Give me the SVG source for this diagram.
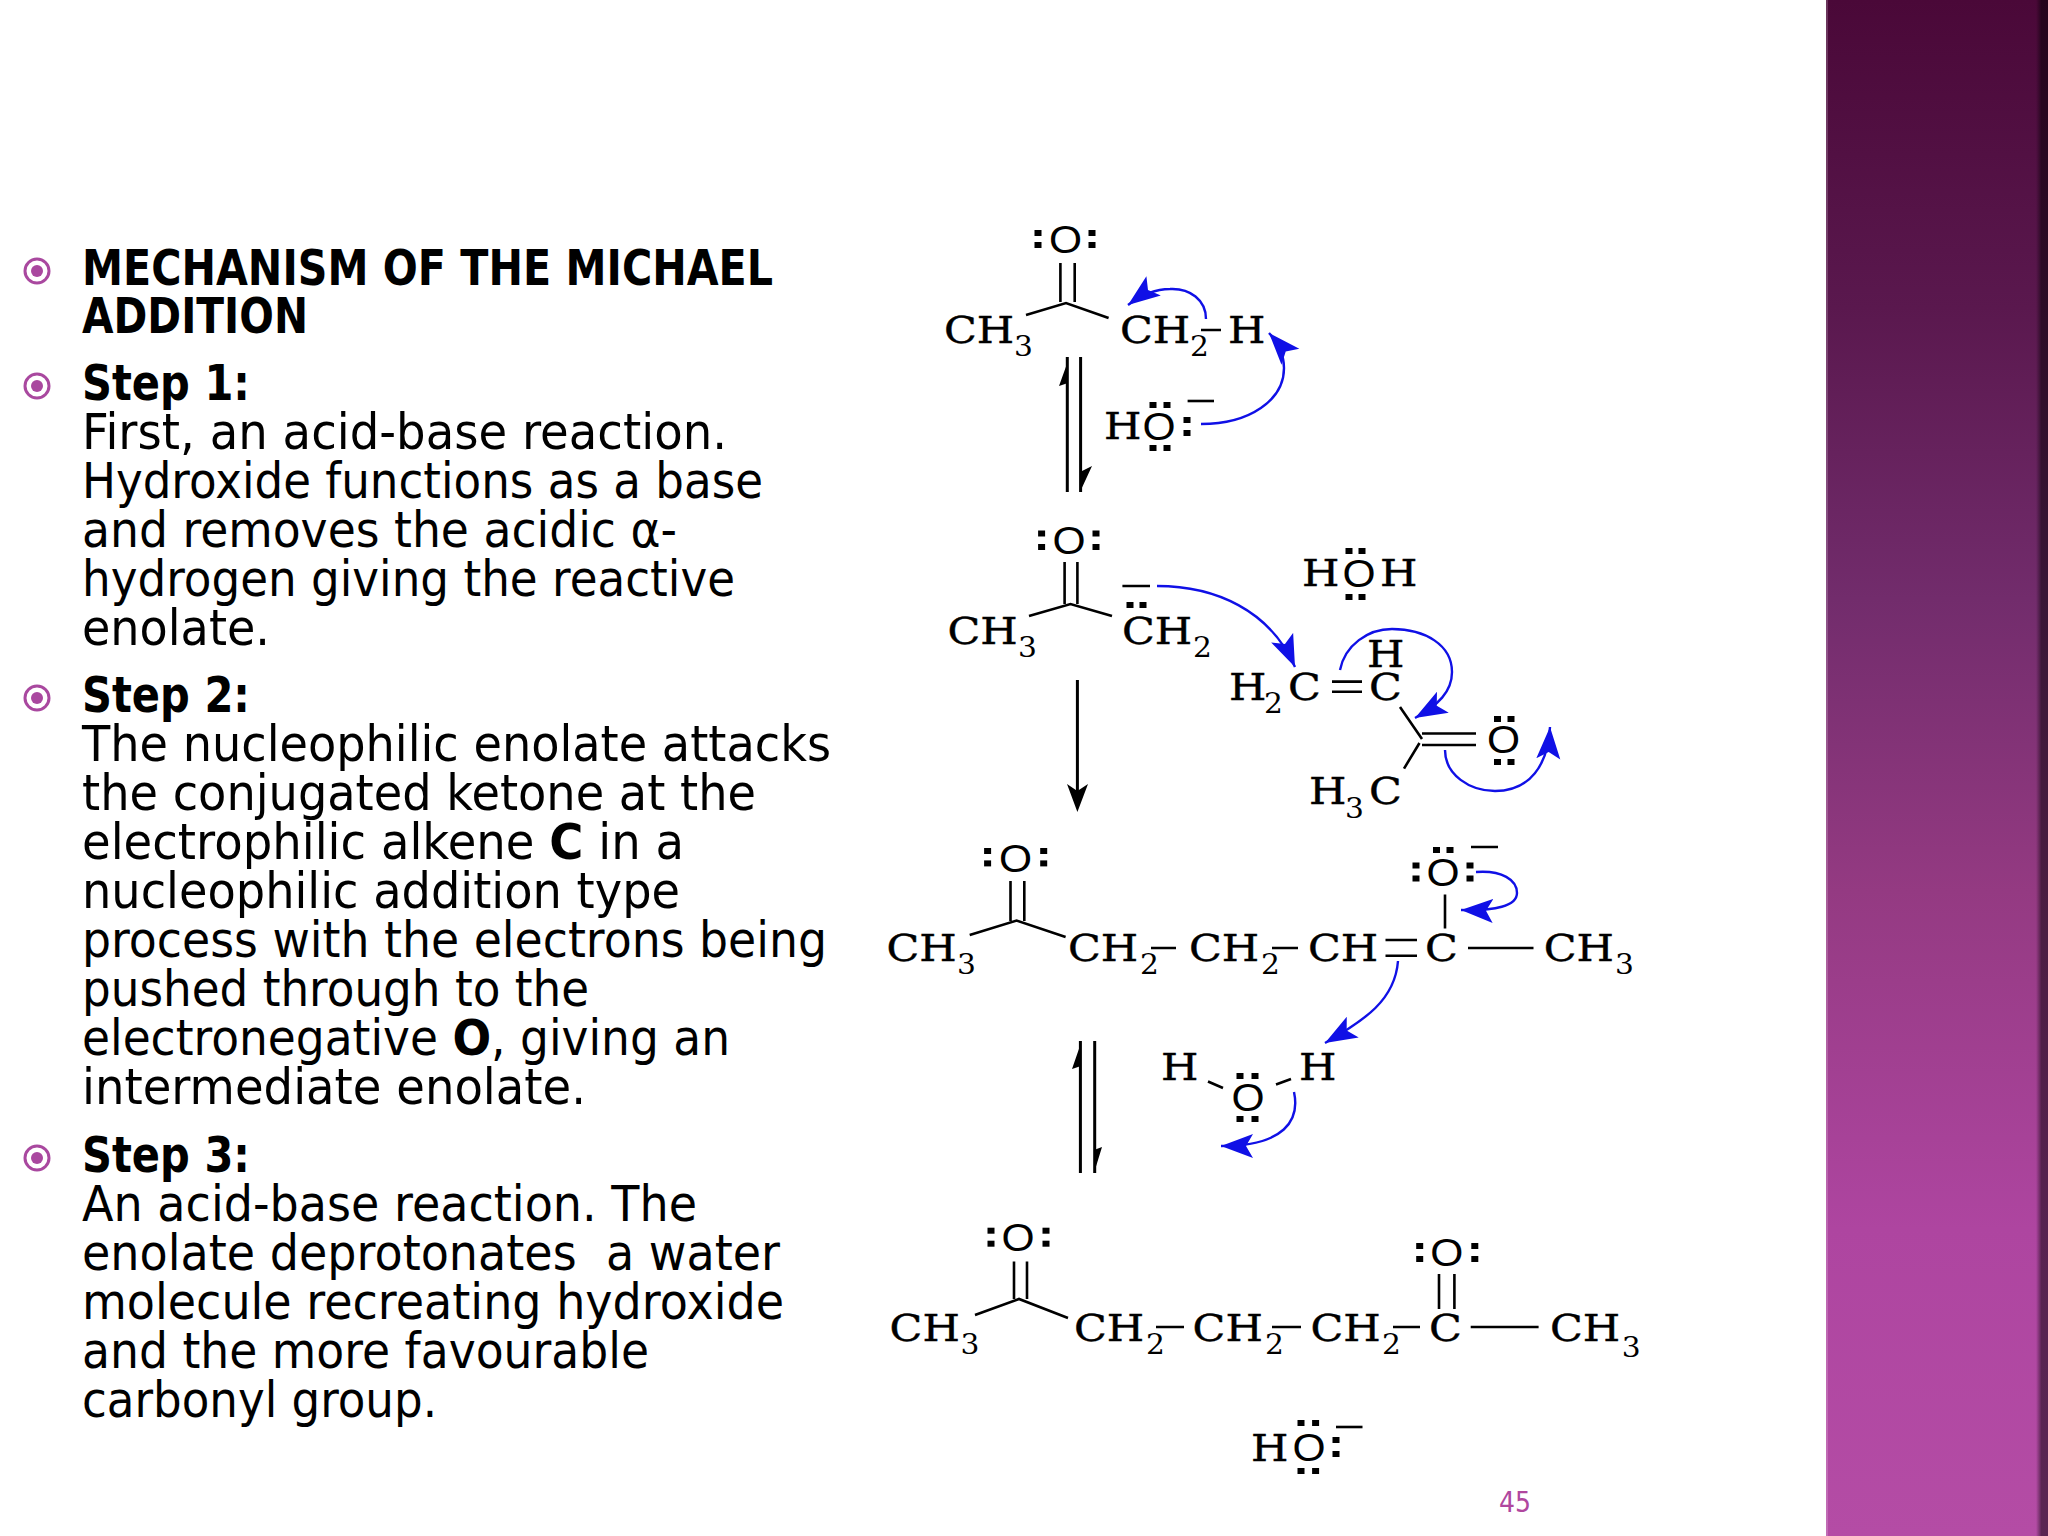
<svg xmlns="http://www.w3.org/2000/svg" width="2048" height="1536" viewBox="0 0 2048 1536">
<style>
.t{font-family:"DejaVu Sans","Liberation Sans",sans-serif;font-size:50px;fill:#000}
.b{font-weight:700}
.c{font-family:"DejaVu Serif","Liberation Serif",serif;font-size:37px;fill:#000;stroke:#000;stroke-width:.4}
.o{font-family:"Liberation Sans","DejaVu Sans",sans-serif;font-size:38px;fill:#000}
.m{text-anchor:middle}
.s{font-family:"DejaVu Serif","Liberation Serif",serif;font-size:27px;fill:#000}
.l{stroke:#000;stroke-width:2.6;fill:none}
.a{stroke:#000;stroke-width:3;fill:none}
.e{stroke:#1010e6;stroke-width:2.4;fill:none;marker-end:url(#h)}
.k{fill:#000}
.bu{fill:none;stroke:#a9489f;stroke-width:3}
.bd{fill:#a9489f}
</style>
<defs>
<linearGradient id="g" x1="0" y1="0" x2="0" y2="1"><stop offset="0" stop-color="#4a0838"/><stop offset=".2" stop-color="#5a184e"/><stop offset=".39" stop-color="#722c6c"/><stop offset=".58" stop-color="#943a82"/><stop offset=".8" stop-color="#ae45a0"/><stop offset="1" stop-color="#b44ca5"/></linearGradient>
<linearGradient id="r" x1="0" y1="0" x2="1" y2="0"><stop offset="0" stop-color="#000" stop-opacity="0"/><stop offset=".45" stop-color="#000" stop-opacity=".5"/><stop offset="1" stop-color="#000" stop-opacity=".5"/></linearGradient>
<marker id="h" markerUnits="userSpaceOnUse" markerWidth="32" markerHeight="26" refX="32" refY="13" orient="auto"><path d="M32,13 L0,1 L7,13 L0,25 Z" fill="#1010e6"/></marker>
<rect id="d" x="-3.5" y="-3" width="7" height="6" fill="#000"/>
</defs>
<rect width="2048" height="1536" fill="#fff"/>
<g id="sidebar"><rect x="1826" y="0" width="222" height="1536" fill="url(#g)"/><rect x="1826" y="0" width="2" height="1536" fill="#fff" opacity=".18"/><rect x="2036" y="0" width="12" height="1536" fill="url(#r)"/></g>

<g id="bullets">
<circle class="bu" cx="37" cy="271" r="12"/><circle class="bd" cx="37" cy="271" r="6"/>
<circle class="bu" cx="37" cy="386" r="12"/><circle class="bd" cx="37" cy="386" r="6"/>
<circle class="bu" cx="37" cy="698" r="12"/><circle class="bd" cx="37" cy="698" r="6"/>
<circle class="bu" cx="37" cy="1158" r="12"/><circle class="bd" cx="37" cy="1158" r="6"/>
</g>
<g id="text">
<text class="t b" x="82" y="285" textLength="691" lengthAdjust="spacingAndGlyphs">MECHANISM OF THE MICHAEL</text>
<text class="t b" x="82" y="333" textLength="226" lengthAdjust="spacingAndGlyphs">ADDITION</text>
<text class="t b" x="82" y="400" textLength="168" lengthAdjust="spacingAndGlyphs">Step 1:</text>
<text class="t" x="82" y="449" textLength="645" lengthAdjust="spacingAndGlyphs">First, an acid-base reaction.</text>
<text class="t" x="82" y="498" textLength="681" lengthAdjust="spacingAndGlyphs">Hydroxide functions as a base</text>
<text class="t" x="82" y="547" textLength="595" lengthAdjust="spacingAndGlyphs">and removes the acidic α-</text>
<text class="t" x="82" y="596" textLength="653" lengthAdjust="spacingAndGlyphs">hydrogen giving the reactive</text>
<text class="t" x="82" y="645" textLength="188" lengthAdjust="spacingAndGlyphs">enolate.</text>
<text class="t b" x="82" y="712" textLength="168" lengthAdjust="spacingAndGlyphs">Step 2:</text>
<text class="t" x="82" y="761" textLength="749" lengthAdjust="spacingAndGlyphs">The nucleophilic enolate attacks</text>
<text class="t" x="82" y="810" textLength="674" lengthAdjust="spacingAndGlyphs">the conjugated ketone at the</text>
<text class="t" x="82" y="859" textLength="602" lengthAdjust="spacingAndGlyphs">electrophilic alkene <tspan class="b">C</tspan> in a</text>
<text class="t" x="82" y="908" textLength="598" lengthAdjust="spacingAndGlyphs">nucleophilic addition type</text>
<text class="t" x="82" y="957" textLength="745" lengthAdjust="spacingAndGlyphs">process with the electrons being</text>
<text class="t" x="82" y="1006" textLength="507" lengthAdjust="spacingAndGlyphs">pushed through to the</text>
<text class="t" x="82" y="1055" textLength="648" lengthAdjust="spacingAndGlyphs">electronegative <tspan class="b">O</tspan>, giving an</text>
<text class="t" x="82" y="1104" textLength="504" lengthAdjust="spacingAndGlyphs">intermediate enolate.</text>
<text class="t b" x="82" y="1172" textLength="168" lengthAdjust="spacingAndGlyphs">Step 3:</text>
<text class="t" x="82" y="1221" textLength="615" lengthAdjust="spacingAndGlyphs">An acid-base reaction. The</text>
<text class="t" x="82" y="1270" textLength="698" lengthAdjust="spacingAndGlyphs" xml:space="preserve">enolate deprotonates  a water</text>
<text class="t" x="82" y="1319" textLength="702" lengthAdjust="spacingAndGlyphs">molecule recreating hydroxide</text>
<text class="t" x="82" y="1368" textLength="567" lengthAdjust="spacingAndGlyphs">and the more favourable</text>
<text class="t" x="82" y="1417" textLength="355" lengthAdjust="spacingAndGlyphs">carbonyl group.</text>
</g>

<g id="mol1">
<text class="o m" transform="matrix(1.12 0 0 1 1065.5 252.5)">O</text>
<use href="#d" x="1038" y="233"/><use href="#d" x="1038" y="245"/><use href="#d" x="1092" y="233"/><use href="#d" x="1092" y="245"/>
<path class="l" d="M1060.4,263V302M1074.7,263V302M1026,315L1066,303L1108.6,318M1201,330H1221"/>
<text class="c" transform="matrix(1.16 0 0 1 944 343)">CH</text><text class="s" transform="matrix(1.1 0 0 1 1014 356)">3</text>
<text class="c" transform="matrix(1.16 0 0 1 1120 343)">CH</text><text class="s" transform="matrix(1.1 0 0 1 1190 356)">2</text>
<text class="c" transform="matrix(1.16 0 0 1 1228 343)">H</text>
</g>
<g id="hydroxide1">
<text class="c" transform="matrix(1.16 0 0 1 1104 439)">H</text><text class="o m" transform="matrix(1.12 0 0 1 1159 439.5)">O</text>
<use href="#d" x="1153" y="405"/><use href="#d" x="1167" y="405"/><use href="#d" x="1153" y="448"/><use href="#d" x="1167" y="448"/><use href="#d" x="1187" y="420"/><use href="#d" x="1187" y="433"/>
<path class="l" d="M1187.6,401H1214"/>
</g>

<g id="mol2">
<text class="o m" transform="matrix(1.12 0 0 1 1069 553.5)">O</text>
<use href="#d" x="1041.6" y="533.5"/><use href="#d" x="1041.6" y="547"/><use href="#d" x="1096" y="533.5"/><use href="#d" x="1096" y="547"/>
<path class="l" d="M1064.6,562V604M1077.4,562V604M1029,616L1070.5,604L1112,616M1122.4,586H1150"/>
<use href="#d" x="1130" y="605"/><use href="#d" x="1143" y="605"/>
<text class="c" transform="matrix(1.16 0 0 1 947.5 644)">CH</text><text class="s" transform="matrix(1.1 0 0 1 1018 657)">3</text>
<text class="c" transform="matrix(1.16 0 0 1 1122 644)">CH</text><text class="s" transform="matrix(1.1 0 0 1 1193 657)">2</text>
</g>
<g id="water1">
<text class="c" transform="matrix(1.16 0 0 1 1302 586)">H</text><text class="o m" transform="matrix(1.12 0 0 1 1359 587)">O</text><text class="c" transform="matrix(1.16 0 0 1 1380 586)">H</text>
<use href="#d" x="1349" y="551"/><use href="#d" x="1362" y="551"/><use href="#d" x="1349" y="597"/><use href="#d" x="1362" y="597"/>
</g>
<g id="enone">
<text class="c" transform="matrix(1.16 0 0 1 1229 700)">H</text><text class="s" transform="matrix(1.1 0 0 1 1264 713)">2</text>
<text class="c" transform="matrix(1.16 0 0 1 1288 700)">C</text>
<text class="c" transform="matrix(1.16 0 0 1 1369 700)">C</text>
<text class="c" transform="matrix(1.16 0 0 1 1367 666.5)">H</text>
<text class="o m" transform="matrix(1.12 0 0 1 1503.5 753)">O</text>
<use href="#d" x="1497.5" y="719"/><use href="#d" x="1511" y="719"/><use href="#d" x="1497.5" y="762"/><use href="#d" x="1511" y="762"/>
<text class="c" transform="matrix(1.16 0 0 1 1309 804)">H</text><text class="s" transform="matrix(1.1 0 0 1 1345 818)">3</text>
<text class="c" transform="matrix(1.16 0 0 1 1369 804)">C</text>
<path class="l" d="M1332,681.6H1362M1332,691.8H1362M1400,707L1422,739M1422,733.5H1476M1422,745H1476M1419.5,743L1404,768.6"/>
</g>

<g id="mol3">
<text class="o m" transform="matrix(1.12 0 0 1 1015.6 871.5)">O</text>
<use href="#d" x="987.6" y="851"/><use href="#d" x="987.6" y="863.4"/><use href="#d" x="1043.7" y="851"/><use href="#d" x="1043.7" y="863.4"/>
<path class="l" d="M1010.5,881V921M1024.3,881V921M969.7,935L1016.6,920.6L1065.6,937M1151,948H1176M1272,948H1298M1385.5,940H1417M1385.5,955.7H1417M1468,948H1533.5M1445,894.6V928.4M1471,847H1498"/>
<text class="c" transform="matrix(1.16 0 0 1 886.5 961)">CH</text><text class="s" transform="matrix(1.1 0 0 1 957 974)">3</text>
<text class="c" transform="matrix(1.16 0 0 1 1068 961)">CH</text><text class="s" transform="matrix(1.1 0 0 1 1140 974)">2</text>
<text class="c" transform="matrix(1.16 0 0 1 1189 961)">CH</text><text class="s" transform="matrix(1.1 0 0 1 1261 974)">2</text>
<text class="c" transform="matrix(1.16 0 0 1 1308 961)">CH</text>
<text class="c" transform="matrix(1.16 0 0 1 1425 961)">C</text>
<text class="c" transform="matrix(1.16 0 0 1 1543.7 961)">CH</text><text class="s" transform="matrix(1.1 0 0 1 1615 974)">3</text>
<text class="o m" transform="matrix(1.12 0 0 1 1443 885.5)">O</text>
<use href="#d" x="1416" y="865.5"/><use href="#d" x="1416" y="878.5"/><use href="#d" x="1470" y="865.5"/><use href="#d" x="1470" y="878.5"/><use href="#d" x="1436.5" y="850"/><use href="#d" x="1450" y="850"/>
</g>
<g id="water2">
<text class="c" transform="matrix(1.16 0 0 1 1161 1080)">H</text>
<text class="c" transform="matrix(1.16 0 0 1 1299 1080)">H</text>
<text class="o m" transform="matrix(1.12 0 0 1 1248 1111)">O</text>
<use href="#d" x="1240" y="1076"/><use href="#d" x="1255" y="1076"/><use href="#d" x="1240" y="1119"/><use href="#d" x="1255" y="1119"/>
<path class="l" d="M1208,1081.5L1223,1088M1276,1084.5L1291,1079"/>
</g>

<g id="mol4">
<text class="o m" transform="matrix(1.12 0 0 1 1018 1250.5)">O</text>
<use href="#d" x="991" y="1230.7"/><use href="#d" x="991" y="1243.7"/><use href="#d" x="1046" y="1230.7"/><use href="#d" x="1046" y="1243.7"/>
<path class="l" d="M1014,1261.5V1299M1027,1261.5V1299M975,1315L1019,1299L1068,1318M1156,1327H1184M1272,1327H1301M1393,1327H1420M1470.7,1327H1538.6M1439,1274V1309M1454.4,1274V1309"/>
<text class="c" transform="matrix(1.16 0 0 1 889.6 1341)">CH</text><text class="s" transform="matrix(1.1 0 0 1 960.5 1354)">3</text>
<text class="c" transform="matrix(1.16 0 0 1 1074 1341)">CH</text><text class="s" transform="matrix(1.1 0 0 1 1146 1354)">2</text>
<text class="c" transform="matrix(1.16 0 0 1 1192.6 1341)">CH</text><text class="s" transform="matrix(1.1 0 0 1 1265 1354)">2</text>
<text class="c" transform="matrix(1.16 0 0 1 1310.5 1341)">CH</text><text class="s" transform="matrix(1.1 0 0 1 1382 1354)">2</text>
<text class="c" transform="matrix(1.16 0 0 1 1429 1341)">C</text>
<text class="c" transform="matrix(1.16 0 0 1 1550 1341)">CH</text><text class="s" transform="matrix(1.1 0 0 1 1621.7 1357)">3</text>
<text class="o m" transform="matrix(1.12 0 0 1 1446.7 1265.5)">O</text>
<use href="#d" x="1419.7" y="1246"/><use href="#d" x="1419.7" y="1259"/><use href="#d" x="1474.8" y="1246"/><use href="#d" x="1474.8" y="1259"/>
</g>
<g id="hydroxide2">
<text class="c" transform="matrix(1.16 0 0 1 1251 1461)">H</text><text class="o m" transform="matrix(1.12 0 0 1 1309 1461)">O</text>
<use href="#d" x="1301" y="1423"/><use href="#d" x="1315.6" y="1423"/><use href="#d" x="1301" y="1471"/><use href="#d" x="1315.6" y="1471"/><use href="#d" x="1336" y="1440"/><use href="#d" x="1336" y="1454"/>
<path class="l" d="M1336,1427H1362.5"/>
</g>

<g id="connectors">
<path class="a" d="M1067.3,357V492M1080.6,357V492"/>
<path class="k" d="M1068,361L1059,386L1068,383ZM1080,492L1092,466L1080,472Z"/>
<path class="a" d="M1077.4,680V800"/>
<path class="k" d="M1077.4,812L1067,784L1077.4,791L1088,784Z"/>
<path class="a" d="M1080.4,1041V1173M1094.7,1041V1173"/>
<path class="k" d="M1081,1043L1072,1069L1081,1066ZM1094,1173L1102,1147L1094,1150Z"/>
<path class="e" d="M1206,319C1206,300 1190,288 1170,289C1155,289 1140,296 1128,305"/>
<path class="e" d="M1201,424C1250,424 1284,400 1284,368C1284,355 1278,343 1269,333"/>
<path class="e" d="M1157,586C1215,586 1270,610 1295,667"/>
<path class="e" d="M1340,670C1345,645 1368,629 1392,629C1425,629 1452,645 1452,672C1452,692 1438,705 1415,718"/>
<path class="e" d="M1445,750C1445,775 1470,791 1495,791C1530,791 1548,765 1550,727"/>
<path class="e" d="M1476,872C1502,870 1517,880 1517,893C1517,906 1495,911 1461,910"/>
<path class="e" d="M1398,961C1395,1000 1365,1020 1325,1043"/>
<path class="e" d="M1294,1092C1300,1120 1285,1146 1221,1146"/>
</g>
<text id="page" x="1499" y="1512" font-family="DejaVu Sans, sans-serif" font-size="28" fill="#b0479f" textLength="32" lengthAdjust="spacingAndGlyphs">45</text>
</svg>
